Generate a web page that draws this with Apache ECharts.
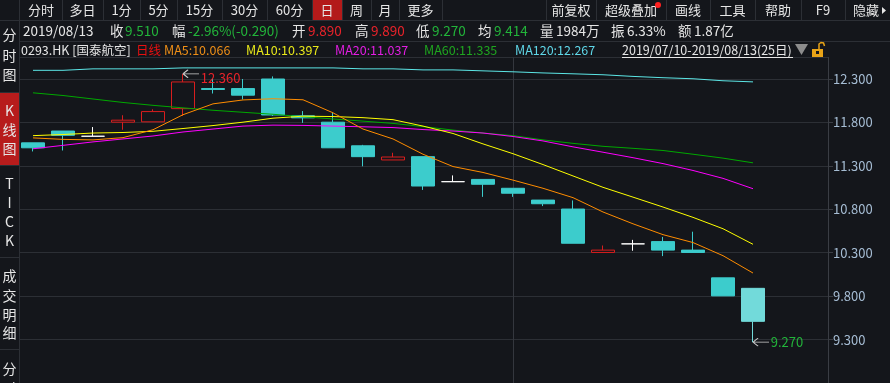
<!DOCTYPE html>
<html>
<head>
<meta charset="utf-8">
<title>0293.HK 国泰航空 日线</title>
<script src="https://cdn.jsdelivr.net/npm/echarts@6/dist/echarts.min.js"></script>
<style>
  html, body { margin: 0; padding: 0; background: #14161b; }
  #kChart { width: 890px; height: 383px; }
</style>
</head>
<body>
<div id="kChart"></div>
<script>
// 交易日
const dates = [
  '2019/07/10', '2019/07/11', '2019/07/12', '2019/07/15', '2019/07/16', '2019/07/17',
  '2019/07/18', '2019/07/19', '2019/07/22', '2019/07/23', '2019/07/24', '2019/07/25',
  '2019/07/26', '2019/07/29', '2019/07/30', '2019/07/31', '2019/08/01', '2019/08/02',
  '2019/08/05', '2019/08/06', '2019/08/07', '2019/08/08', '2019/08/09', '2019/08/12',
  '2019/08/13',
];

// K线 开/收/低/高
const openPrices = [
  11.565, 11.701, 11.641, 11.803, 11.807, 11.959, 12.190, 12.190, 12.300, 11.876,
  11.803, 11.531, 11.368, 11.406, 11.118, 11.144, 11.042, 10.906, 10.803, 10.303,
  10.402, 10.428, 10.330, 10.011, 9.890,
];
const closePrices = [
  11.508, 11.652, 11.641, 11.826, 11.925, 12.266, 12.180, 12.114, 11.886, 11.853,
  11.508, 11.406, 11.402, 11.068, 11.118, 11.088, 10.985, 10.864, 10.409, 10.330,
  10.402, 10.330, 10.303, 9.803, 9.510,
];
const lowPrices = [
  11.466, 11.477, 11.641, 11.716, 11.807, 11.875, 12.133, 12.065, 11.875, 11.795,
  11.508, 11.295, 11.368, 11.023, 11.118, 10.943, 10.943, 10.837, 10.409, 10.303,
  10.323, 10.261, 10.303, 9.803, 9.270,
];
const highPrices = [
  11.565, 11.701, 11.747, 11.883, 11.951, 12.360, 12.300, 12.300, 12.330, 11.931,
  11.914, 11.542, 11.451, 11.406, 11.190, 11.144, 11.042, 10.906, 10.902, 10.383,
  10.448, 10.482, 10.542, 10.011, 9.890,
];

// 均线
const ma5 = [
  11.622, 11.605, 11.599, 11.625, 11.716, 11.889, 12.014, 12.059, 12.073, 12.061,
  11.911, 11.724, 11.610, 11.434, 11.292, 11.224, 11.136, 11.042, 10.934, 10.769,
  10.633, 10.508, 10.417, 10.266, 10.066,
];
const ma10 = [
  11.648, 11.661, 11.678, 11.684, 11.698, 11.730, 11.764, 11.803, 11.849, 11.872,
  11.868, 11.855, 11.832, 11.758, 11.673, 11.553, 11.440, 11.315, 11.184, 11.053,
  10.940, 10.826, 10.707, 10.576, 10.397,
];
const ma20 = [
  11.497, 11.536, 11.576, 11.610, 11.644, 11.690, 11.724, 11.758, 11.769, 11.766,
  11.758, 11.750, 11.741, 11.718, 11.701, 11.678, 11.638, 11.587, 11.519, 11.457,
  11.394, 11.326, 11.247, 11.156, 11.037,
];
const ma60 = [
  12.141, 12.110, 12.070, 12.030, 11.997, 11.968, 11.940, 11.917, 11.894, 11.866,
  11.840, 11.815, 11.789, 11.752, 11.712, 11.678, 11.648, 11.599, 11.559, 11.525,
  11.502, 11.477, 11.434, 11.389, 11.335,
];
const ma120 = [
  12.400, 12.400, 12.417, 12.417, 12.417, 12.428, 12.428, 12.428, 12.428, 12.428,
  12.428, 12.417, 12.417, 12.405, 12.405, 12.394, 12.383, 12.370, 12.360, 12.349,
  12.330, 12.315, 12.303, 12.280, 12.267,
];

const BG = '#14161b';
const LINE = '#2c2f35';
const RED = '#d81e1e';
const CYAN = '#3ccccc';
const FONT = '"Noto Sans CJK SC", "Noto Sans", sans-serif';

// 顶部按钮 [文字, 左, 右]
const toolbarItems = [
  ['分时', 20, 62], ['多日', 62, 103], ['1分', 103, 140], ['5分', 140, 177],
  ['15分', 177, 222], ['30分', 222, 267], ['60分', 267, 312], ['日', 312, 342],
  ['周', 342, 371], ['月', 371, 399], ['更多', 399, 442],
  ['前复权', 546, 596], ['超级叠加', 596, 666], ['画线', 666, 710], ['工具', 710, 755],
  ['帮助', 755, 801], ['F9', 801, 845], ['隐藏', 845, 886],
];

function txt(x, y, text, fill, size, align) {
  return {
    type: 'text', x, y, silent: true, z: 100,
    style: { text, fill, fontSize: size || 13, fontFamily: FONT, align: align || 'left', verticalAlign: 'middle' },
  };
}

function seg(x1, y1, x2, y2, color) {
  return {
    type: 'line', silent: true, z: 99,
    shape: { x1, y1, x2, y2 },
    style: { stroke: color || LINE, lineWidth: 1 },
  };
}

function buildGraphic() {
  const g = [];
  // 左侧栏底色，盖住网格线
  g.push({ type: 'rect', silent: true, z: 98, shape: { x: 0, y: 0, width: 19, height: 383 }, style: { fill: BG } });
  g.push({ type: 'rect', silent: true, z: 98, shape: { x: 0, y: 0, width: 890, height: 57 }, style: { fill: BG } });
  g.push({ type: 'rect', silent: true, z: 98, shape: { x: 0, y: 92, width: 19, height: 73 }, style: { fill: '#b71c1c' } });
  g.push({ type: 'rect', silent: true, z: 98, shape: { x: 312, y: 0, width: 30, height: 20 }, style: { fill: '#b31a1a' } });

  // 工具栏
  g.push(seg(0, 20.5, 890, 20.5));
  g.push(seg(19, 41.5, 890, 41.5));
  g.push(seg(19.5, 0, 19.5, 383));
  const seps = [62, 103, 140, 177, 222, 267, 312, 342, 371, 399, 442, 546, 596, 666, 710, 755, 801, 845];
  seps.forEach(x => g.push(seg(x + 0.5, 0, x + 0.5, 20)));
  toolbarItems.forEach(([t, l, r]) => {
    g.push(txt(t === '隐藏' ? l + 8 : (l + r) / 2, 10.5, t, '#e6e6e6', 13, t === '隐藏' ? 'left' : 'center'));
  });
  g.push({ type: 'circle', silent: true, z: 101, shape: { cx: 658, cy: 5, r: 3 }, style: { fill: '#ff2020' } });
  g.push({ type: 'polygon', silent: true, z: 101, shape: { points: [[882, 7], [886, 10.5], [882, 14]] }, style: { fill: '#e6e6e6' } });

  // 左侧栏
  [20, 92, 165, 257, 349].forEach(y => g.push(seg(0, y + 0.5, 19, y + 0.5)));
  const side = [['分', 35], ['时', 56], ['图', 75], ['K', 111], ['线', 130], ['图', 149],
    ['T', 184], ['I', 203], ['C', 222], ['K', 241], ['成', 276], ['交', 296], ['明', 315], ['细', 333],
    ['分', 369], ['时', 389]];
  side.forEach(([c, y]) => g.push(txt(9.5, y, c, '#e6e6e6', 14, 'center')));

  // 行情信息
  const W = '#e6e6e6';
  const G = '#22b43a';
  const R = '#e8232a';
  const info = [
    [23, '2019/08/13', W], [110, '收', W], [125, '9.510', G], [172, '幅', W], [188, '-2.96%(-0.290)', G],
    [292, '开', W], [308, '9.890', R], [355, '高', W], [371, '9.890', R], [416, '低', W], [432, '9.270', G],
    [478, '均', W], [494, '9.414', G], [540, '量', W], [556, '1984万', W], [611, '振', W], [627, '6.33%', W],
    [678, '额', W], [694, '1.87亿', W],
  ];
  info.forEach(([x, t, c]) => g.push(txt(x, 31, t, c, 13.5)));

  // 均线说明
  const legend = [
    [21, '0293.HK [国泰航空]', W], [136, '日线', '#e81010'], [164, 'MA5:10.066', '#ef8f17'],
    [246, 'MA10:10.397', '#e8e81a'], [335, 'MA20:11.037', '#e21ee2'], [424, 'MA60:11.335', '#1fa51f'],
    [515, 'MA120:12.267', '#5fd7e8'], [622, '2019/07/10-2019/08/13(25日)', W],
  ];
  legend.forEach(([x, t, c]) => g.push(txt(x, 50, t, c, 12.5)));
  g.push(seg(622, 57.5, 793, 57.5, W));
  g.push({ type: 'polygon', silent: true, z: 101, shape: { points: [[795, 44], [808, 44], [801.5, 55]] }, style: { fill: '#8c8c8c' } });
  g.push({ type: 'rect', silent: true, z: 101, shape: { x: 812, y: 49, width: 11, height: 8 }, style: { fill: '#e8a317' } });
  g.push({ type: 'rect', silent: true, z: 102, shape: { x: 816, y: 51, width: 3, height: 3 }, style: { fill: BG } });
  g.push({
    type: 'polyline', silent: true, z: 101,
    shape: { points: [[819, 49], [819, 44], [821, 42.5], [823.5, 43], [824.5, 46]] },
    style: { stroke: '#e8a317', lineWidth: 1.5, fill: null },
  });
  return g;
}

function drawKChart() {
  const myChart = echarts.init(document.getElementById('kChart'), null, { renderer: 'canvas' });
  // 右侧留两根K线的空位
  const xData = dates.concat([' ', '  ']);
  const kData = dates.map((d, i) => {
    const item = { value: [openPrices[i], closePrices[i], lowPrices[i], highPrices[i]] };
    if (openPrices[i] === closePrices[i]) {
      item.itemStyle = { color: '#ffffff', color0: '#ffffff', borderColor: '#ffffff', borderColor0: '#ffffff' };
    }
    if (i === dates.length - 1) {
      item.itemStyle = { color0: '#72dada', borderColor0: '#72dada' };
    }
    return item;
  });

  const maLine = (name, data, color) => ({
    name, type: 'line', data, symbol: 'none', showSymbol: false, smooth: false, silent: true,
    lineStyle: { width: 1, color }, z: 5,
  });

  const arrow = 'path://M0,4L5,0M0,4L5,8M0,4L16,4';

  const option = {
    backgroundColor: BG,
    animation: false,
    grid: { left: 18, right: 62, top: 57.3, height: 330 },
    xAxis: {
      type: 'category',
      data: xData,
      boundaryGap: true,
      axisLine: { show: false },
      axisTick: { show: false },
      axisLabel: { show: false },
      splitLine: { show: false },
    },
    yAxis: {
      type: 'value',
      position: 'right',
      min: 8.8,
      max: 12.55,
      interval: 0.5,
      axisLine: { show: true, lineStyle: { color: '#3a3d44' } },
      axisTick: { show: true, length: 5, lineStyle: { color: '#3a3d44' } },
      axisLabel: {
        color: '#a6bdd4', fontSize: 13, fontFamily: FONT, margin: 5,
        showMinLabel: false, showMaxLabel: false,
        formatter: v => v.toFixed(3),
      },
      splitLine: { show: true, lineStyle: { color: LINE } },
    },
    series: [
      {
        name: '日线',
        type: 'candlestick',
        data: kData,
        barWidth: 23,
        silent: true,
        z: 3,
        itemStyle: {
          color: BG,
          color0: CYAN,
          borderColor: RED,
          borderColor0: CYAN,
          borderColorDoji: '#ffffff',
          borderWidth: 1,
        },
        markLine: {
          silent: true,
          symbol: 'none',
          label: { show: false },
          lineStyle: { color: '#34373e', width: 1, type: 'solid' },
          data: [{ xAxis: '2019/08/01' }],
          z: 1,
        },
        markPoint: {
          silent: true,
          symbol: arrow,
          symbolSize: [16, 8],
          symbolOffset: [8, 0],
          itemStyle: { color: 'rgba(0,0,0,0)', borderColor: '#cfcfcf', borderWidth: 1 },
          label: {
            show: true, position: 'right', distance: 1, fontSize: 13, fontFamily: FONT,
            formatter: p => Number(p.value).toFixed(3),
          },
          data: [
            { type: 'max', valueDim: 'highest', label: { color: '#e8232a', offset: [0, 4] } },
            { type: 'min', valueDim: 'lowest', label: { color: '#22b43a' } },
          ],
        },
      },
      maLine('MA120', ma120, '#5ce6e6'),
      maLine('MA60', ma60, '#00a800'),
      maLine('MA20', ma20, '#ff00ff'),
      maLine('MA10', ma10, '#ffff00'),
      maLine('MA5', ma5, '#ff8c00'),
    ],
    graphic: buildGraphic(),
  };

  myChart.setOption(option);
  return myChart;
}

drawKChart();
</script>
</body>
</html>
